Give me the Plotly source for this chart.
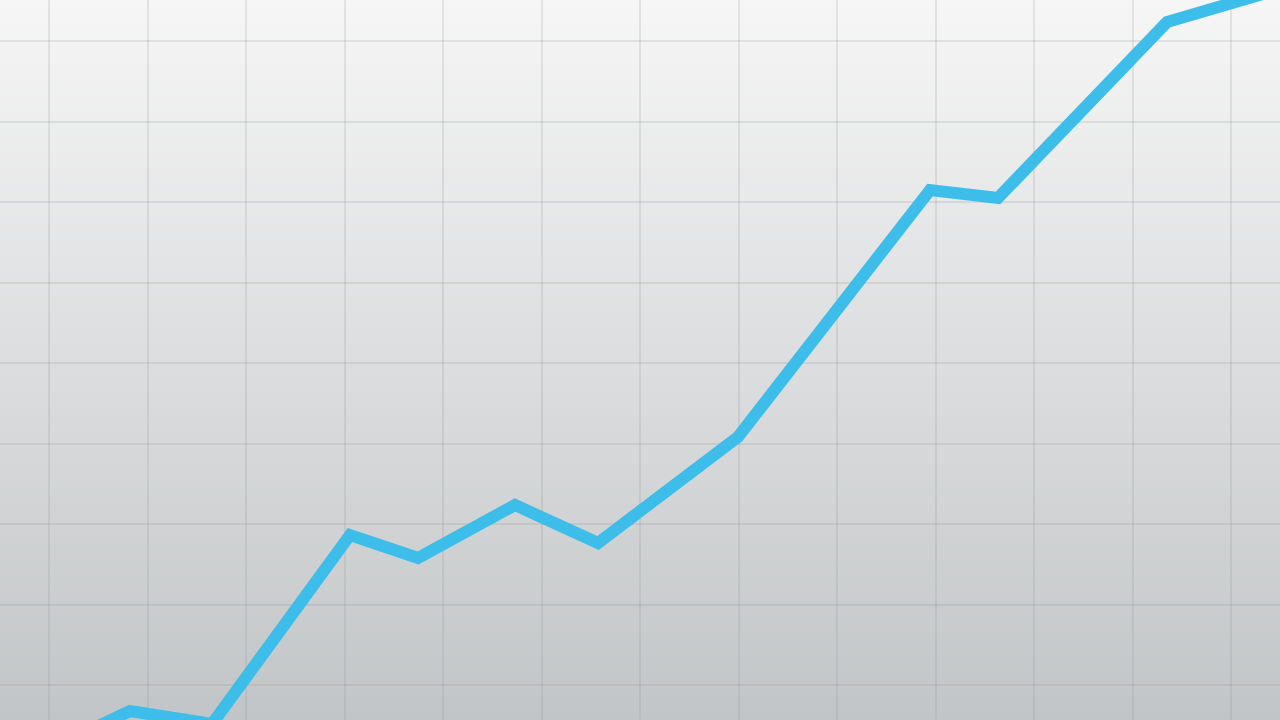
import plotly.graph_objects as go

# Data (chart units: x across, y up; plot spans 0..1280 by 0..720)
x_vals = [90, 130, 212, 350, 418, 515, 598, 738, 930, 998, 1167, 1290]
y_vals = [-10, 9, -4, 185, 162, 215, 177, 283, 530, 522, 698, 734]

W, H = 1280, 720
top_rgb = (246, 246, 246)
bot_rgb = (194, 197, 199)

shapes = []
n = 90
for i in range(n):
    t = (i + 0.5) / n
    c = tuple(round(top_rgb[k] + (bot_rgb[k] - top_rgb[k]) * t) for k in range(3))
    shapes.append(dict(type="rect", xref="paper", yref="paper",
                       x0=0, x1=1, y0=1 - (i + 1) / n - 0.002, y1=1 - i / n,
                       fillcolor="rgb(%d,%d,%d)" % c, line=dict(width=0), layer="below"))

fig = go.Figure()
fig.add_trace(go.Scatter(x=x_vals, y=y_vals, mode="lines",
                         line=dict(color="#3dbeea", width=12),
                         hoverinfo="skip", showlegend=False))

grid_col = "rgba(140,140,140,0.18)"
fig.update_layout(
    width=W, height=H,
    margin=dict(l=0, r=0, t=0, b=0),
    paper_bgcolor="rgba(0,0,0,0)", plot_bgcolor="rgba(0,0,0,0)",
    shapes=shapes,
    showlegend=False,
)
fig.update_xaxes(range=[0, W], showticklabels=False, zeroline=False,
                 showgrid=True, gridcolor=grid_col, gridwidth=2,
                 tick0=49.2, dtick=98.5, ticks="", fixedrange=True)
fig.update_yaxes(range=[0, H], showticklabels=False, zeroline=False,
                 showgrid=True, gridcolor=grid_col, gridwidth=2,
                 tick0=35, dtick=80.5, ticks="", fixedrange=True)

fig.write_html("out.html", config=dict(displayModeBar=False),
               post_script="document.body.style.margin='0';document.body.style.overflow='hidden';")
